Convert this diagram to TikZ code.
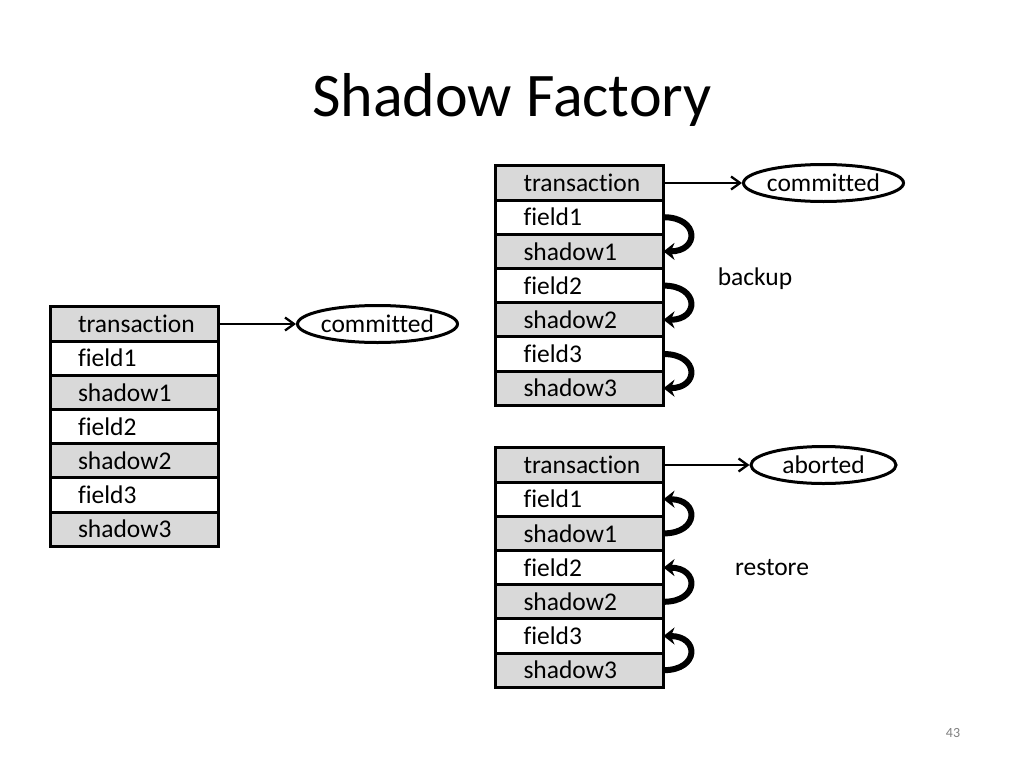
\documentclass[tikz,border=0pt]{standalone}
\usepackage{fontspec}
\setmainfont{Carlito}[Ligatures={NoCommon,NoContextual,NoDiscretionary}]
\usetikzlibrary{positioning,shapes.geometric,arrows.meta}
\definecolor{rowgray}{RGB}{217,217,217}
\begin{document}
\begin{tikzpicture}[x=1pt, y=-1pt,
    row/.style={draw, line width=3pt, minimum height=34.2pt, text width=112pt,
      inner xsep=28pt, inner ysep=0pt, align=left, outer sep=0pt,
      font=\fontsize{25.5}{30}\selectfont},
    greyrow/.style={row, fill=rowgray},
    whiterow/.style={row, fill=white},
    txstate/.style={draw, ellipse, line width=3pt, minimum width=145pt,
      minimum height=37pt, inner sep=0pt, font=\fontsize{25.5}{30}\selectfont},
    link/.style={-{Straight Barb[length=9pt,width=13pt]}, line width=2.3pt},
    copyarr/.style={-{Stealth[length=11pt,width=17pt]}, line width=6pt,
      out=0, in=0, looseness=2.7}]
  \useasboundingbox (0,0) rectangle (1024,768);
  \node (title) at (512,100) {\fontsize{62}{68}\selectfont Shadow Factory};
  % the three objects
  \foreach \s/\x/\y in {L/134/324, T/579.5/183, B/579.5/465} {
    \node [greyrow] (\s tx) at (\x,\y) {transaction};
    \node [whiterow, below=0pt of \s tx] (\s f1) {field1};
    \node [greyrow, below=0pt of \s f1] (\s s1) {shadow1};
    \node [whiterow, below=0pt of \s s1] (\s f2) {field2};
    \node [greyrow, below=0pt of \s f2] (\s s2) {shadow2};
    \node [whiterow, below=0pt of \s s2] (\s f3) {field3};
    \node [greyrow, below=0pt of \s f3] (\s s3) {shadow3};
  }
  \node [txstate] (Lstate) at (377.5,324) {committed};
  \node [txstate] (Tstate) at (823.5,183) {committed};
  \node [txstate] (Bstate) at (823.5,465) {aborted};
  \draw [link] (Ltx.east) -- (Lstate.west);
  \draw [link] (Ttx.east) -- (Tstate.west);
  \draw [link] (Btx.east) -- (Bstate.west);
  % backup and restore
  \foreach \i in {1,2,3} {
    \draw [copyarr] (Tf\i.east) to (Ts\i.east);
    \draw [copyarr] (Bs\i.east) to (Bf\i.east);
  }
  \node [font=\fontsize{25.5}{30}\selectfont] (backup) at (755,279) {backup};
  \node [font=\fontsize{25.5}{30}\selectfont] (restore) at (772,568) {restore};
  \node [font=\fontsize{14}{16}\selectfont, text=gray] (page) at (953,733) {43};
\end{tikzpicture}
\end{document}
